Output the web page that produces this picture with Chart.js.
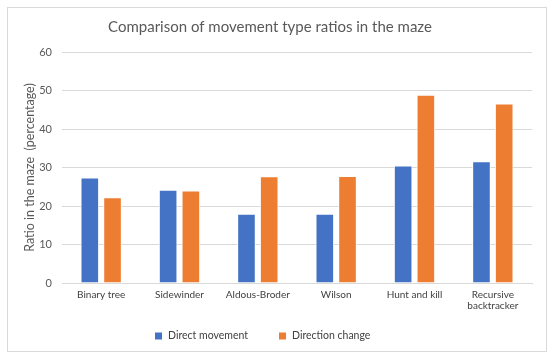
<!DOCTYPE html>
<html><head><meta charset="utf-8">
<script src="https://cdn.jsdelivr.net/npm/chart.js@4/dist/chart.umd.min.js"></script>
<style>
html,body{margin:0;padding:0;background:#fff;}
#wrap{position:absolute;left:7px;top:7px;width:540px;height:345px;border:1px solid #d9d9d9;box-sizing:border-box;}
canvas{display:block;}
</style></head>
<body>
<div id="wrap"><canvas id="c"></canvas></div>
<script>
const categories = ['Binary tree','Sidewinder','Aldous-Broder','Wilson','Hunt and kill',['Recursive','backtracker']];
const directMovement = [27.4, 24.2, 18.0, 18.0, 30.5, 31.6];
const directionChange = [22.3, 24.0, 27.7, 27.8, 48.9, 46.6];
const yTicks = [0,10,20,30,40,50,60];
const FONT = 'Lato, "Open Sans", sans-serif';

const customLegend = {
  id:'customLegend',
  afterDraw(chart){
    const ctx = chart.ctx;
    const xs = [147, 271];
    const y = 328;
    ctx.save();
    ctx.font = '10.5px ' + FONT;
    ctx.textBaseline = 'middle';
    ctx.textAlign = 'left';
    chart.data.datasets.forEach((ds, i) => {
      ctx.fillStyle = ds.backgroundColor;
      ctx.fillRect(xs[i], y - 3.5, 7, 7);
      ctx.fillStyle = '#404040';
      ctx.fillText(ds.label, xs[i] + 13, y);
    });
    ctx.restore();
  }
};

new Chart(document.getElementById('c'), {
  type: 'bar',
  data: {
    labels: categories,
    datasets: [
      {label:'Direct movement', data: directMovement, backgroundColor:'#4472c4', borderColor:'#ffffff', borderWidth:1},
      {label:'Direction change', data: directionChange, backgroundColor:'#ed7d31', borderColor:'#ffffff', borderWidth:1}
    ]
  },
  options: {
    responsive:true, maintainAspectRatio:false, animation:false,
    categoryPercentage:0.58, barPercentage:0.82,
    layout:{padding:{left:0,right:14,top:0,bottom:33}},
    plugins:{
      title:{display:true,text:'Comparison of movement type ratios in the maze',color:'#595959',
        font:{family:FONT,size:15,weight:'normal'},padding:{top:10,bottom:16}},
      legend:{display:false},
      tooltip:{enabled:false}
    },
    scales:{
      x:{grid:{display:false,drawTicks:false},border:{display:true,color:'#d9d9d9'},
        ticks:{color:'#404040',font:{family:FONT,size:10,lineHeight:1.05},maxRotation:0,autoSkip:false,padding:7}},
      y:{min:0,max:60,afterBuildTicks:(s)=>{s.ticks=yTicks.map(v=>({value:v}));},
        afterFit:(s)=>{s.width=54;},
        grid:{color:'#d9d9d9',drawTicks:false},border:{display:false},
        ticks:{color:'#595959',font:{family:FONT,size:11},padding:10},
        title:{display:true,text:'Ratio in the maze  (percentage)',color:'#595959',font:{family:FONT,size:12.5},padding:{top:14,bottom:0}}}
    }
  },
  plugins:[customLegend]
});
</script>
</body></html>
